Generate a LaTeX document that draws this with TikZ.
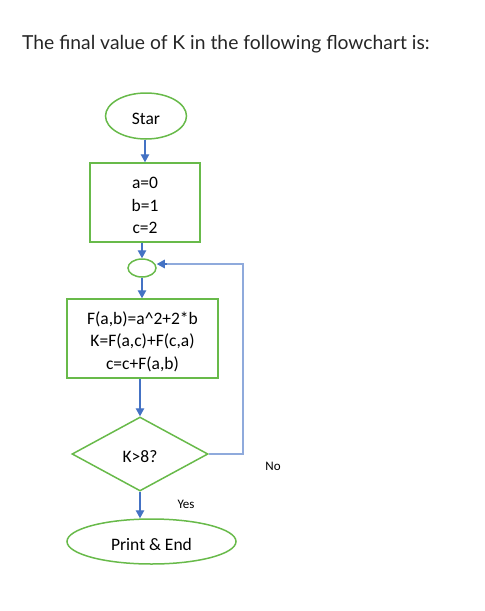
\documentclass[tikz,border=0pt]{standalone}
\usepackage{fontspec}
\setmainfont{Carlito}
\newfontfamily\titlefont{Lato}
\usetikzlibrary{shapes.geometric,arrows.meta}
\definecolor{fgreen}{RGB}{104,186,74}
\definecolor{fblue}{RGB}{68,114,196}
\definecolor{lblue}{RGB}{143,170,220}
\tikzset{
  gshape/.style={draw=fgreen, line width=1.5pt, inner sep=0pt},
  txt/.style={label={[font=\fontsize{17.5}{22.5}\selectfont, align=center, inner sep=0pt, yshift=-3pt]center:#1}},
  arr/.style={draw=fblue, line width=1.3pt, -{Triangle[width=8.5pt,length=8pt]}},
  loopline/.style={draw=lblue, line width=1.3pt},
  small/.style={font=\fontsize{13}{15}\selectfont}
}
\begin{document}
\begin{tikzpicture}[x=1pt,y=-1pt]
\useasboundingbox (0,0) rectangle (485,611);
\node[anchor=base west, inner sep=0pt, font=\titlefont\fontsize{19.3}{22}\selectfont, text=black!85] (title) at (22,49.5) {The final value of K in the following flowchart is:};
\node[gshape, ellipse, minimum width=81pt, minimum height=46pt, txt={Star}] (star) at (146,116) {};
\node[gshape, rectangle, minimum width=110pt, minimum height=79pt, txt={a=0\\b=1\\c=2}] (init) at (145,202.5) {};
\node[gshape, ellipse, minimum width=28pt, minimum height=18pt] (join) at (142,268) {};
\node[gshape, rectangle, minimum width=151pt, minimum height=79pt, txt={F(a,b)=a\textasciicircum2+2*b\\K=F(a,c)+F(c,a)\\c=c+F(a,b)}] (calc) at (142.5,338.5) {};
\node[gshape, diamond, minimum width=136pt, minimum height=74pt, txt={K>8?}] (test) at (140,454) {};
\node[gshape, ellipse, minimum width=169pt, minimum height=45pt, txt={Print \& End}] (done) at (151.5,541.5) {};
\node[small] (yes) at (186,504) {Yes};
\node[small] (no) at (273,466) {No};
\coordinate (c1) at (243,454);
\coordinate (c2) at (243,264);
\draw[arr] (init.north |- star.south) -- (init.north);
\draw[arr] (init.south -| join.north) -- (join.north);
\draw[arr] (join.south) -- (join.south |- calc.north);
\draw[arr] (calc.south -| test.north) -- (test.north);
\draw[arr] (test.south) -- (test.south |- done.north);
\draw[loopline] (test.east) -- (c1) -- (c2) -- ([xshift=6pt]c2 -| join.east);
\draw[arr] ([xshift=10pt]c2 -| join.east) -- (c2 -| join.east);
\end{tikzpicture}
\end{document}
